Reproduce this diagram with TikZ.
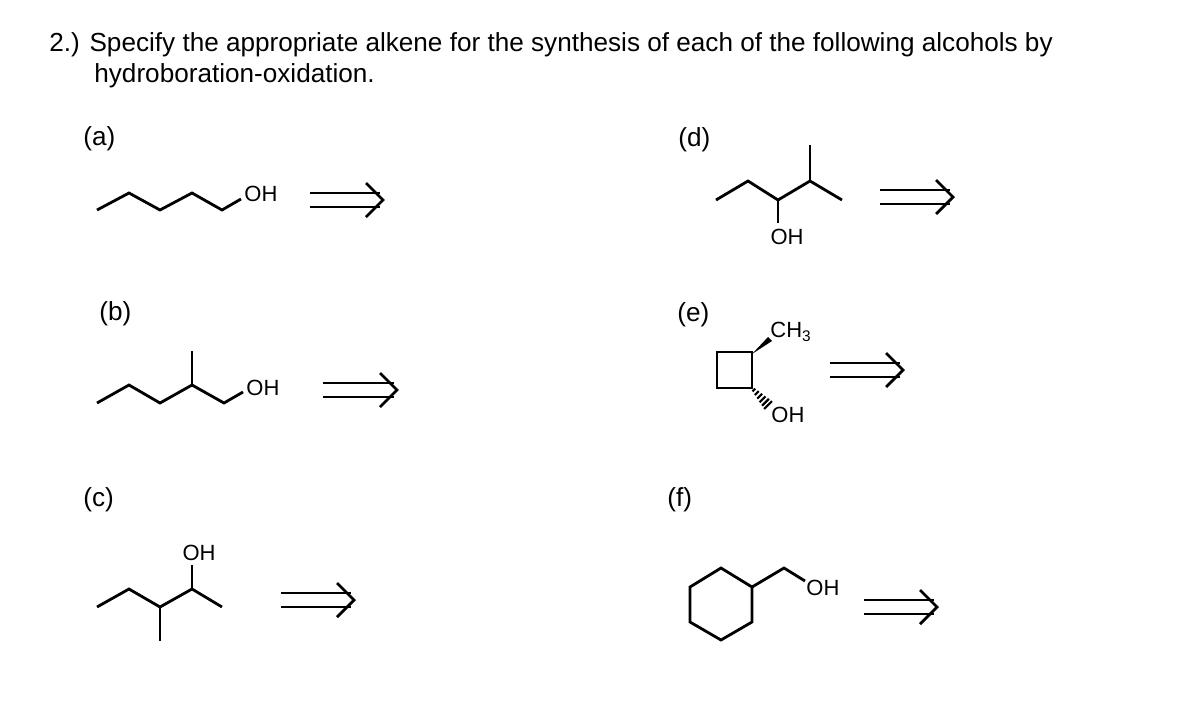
\documentclass[tikz,border=0pt]{standalone}
\usepackage{fontspec}
\setmainfont{Liberation Sans}
\usetikzlibrary{calc}
\newcommand{\darr}[3]{%
  \draw (#1,#3-7) -- (#2-3,#3-7);
  \draw (#1,#3+7) -- (#2-3,#3+7);
  \draw (#2-17,#3-17) -- (#2,#3) -- (#2-17,#3+17);}
\begin{document}
\begin{tikzpicture}[x=0.75pt,y=-0.75pt,line width=2.1pt,line join=miter,
  txt/.style={font=\fontsize{16.5}{20}\selectfont,inner sep=0pt},
  lab/.style={font=\fontsize{19.6}{24}\selectfont,inner sep=0pt,anchor=west}]
\useasboundingbox (0,0) rectangle (1194,726);
\node[lab] (t1) at (48,45) {2.) Specify the appropriate alkene for the synthesis of each of the following alcohols by};
\node[lab] (t2) at (93,76) {hydroboration-oxidation.};
\node[lab] (la) at (82,139) {(a)};
\node[lab] (lb) at (98,314) {(b)};
\node[lab] (lc) at (82,500) {(c)};
\node[lab] (ld) at (677,140) {(d)};
\node[lab] (le) at (676,315) {(e)};
\node[lab] (lf) at (666,500) {(f)};
% (a)
\draw (97,210)--(129,193)--(160,210)--(192,193)--(222,210)--(241,199);
\node[txt,anchor=west] (ohA) at (243,194) {OH};
\darr{310}{383}{200}
% (b)
\draw (97,403)--(129,385)--(160,403)--(192,385)--(224,403)--(243,392);
\draw (192,385)--(192,351);
\node[txt,anchor=west] (ohB) at (245,388) {OH};
\darr{323}{397}{390}
% (c)
\draw (97,607)--(129,589)--(160,607)--(192,589)--(222,607);
\draw (160,607)--(160,641);
\draw (192,589)--(192,565);
\node[txt] (ohC) at (199,553) {OH};
\darr{281}{354}{600}
% (d)
\draw (716,200)--(748,181)--(778,200)--(810,181)--(842,200);
\draw (810,181)--(810,145);
\draw (778,200)--(778,223);
\node[txt] (ohD) at (787,237) {OH};
\darr{880}{953}{197}
% (e)
\draw (717,352) rectangle (752,388);
\fill (752,354)--(768,337)--(772,341)--cycle;
\node[txt,anchor=west] (ch3) at (769,332) {CH\textsubscript{3}};
\foreach \t in {0.12,0.3,0.48,0.66,0.84,1.0}
  \draw[line width=1.6pt] ($(752,388)!\t!(768,405)$) ++(-45:{1.5+4*\t}) -- ++(135:{3+8*\t});
\node[txt,anchor=west] (ohE) at (770,415) {OH};
\darr{830}{903}{370}
% (f)
\draw (690,587)--(721,568)--(752,587)--(752,622)--(721,640)--(690,622)--cycle;
\draw (752,587)--(784,568)--(805,581);
\node[txt,anchor=west] (ohF) at (805,588) {OH};
\darr{864}{937}{607}
\end{tikzpicture}
\end{document}
